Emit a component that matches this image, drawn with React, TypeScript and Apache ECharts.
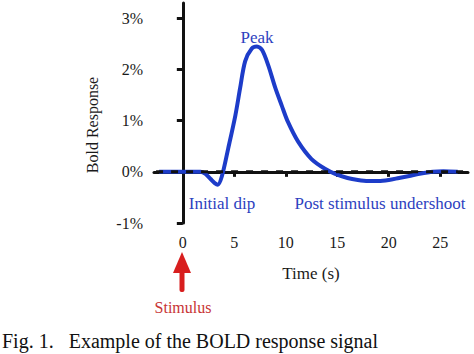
import React, { useEffect, useRef } from "react";
import * as echarts from "echarts";

const times = [-2.3, -1, 0, 1, 1.7, 2.2, 2.7, 3.1, 3.4, 3.8, 4.4, 5.1, 5.56, 6.05, 6.7, 7.2, 7.7, 8.3, 9.0, 9.6, 10.2, 11.2, 12.5, 13.8, 14.8, 16, 17, 18, 19, 20, 21, 22, 23, 24.3, 25.3, 26.7];
const bold = [0, 0, 0, 0, 0, -0.04, -0.14, -0.22, -0.25, -0.08, 0.45, 1.1, 1.63, 2.16, 2.41, 2.45, 2.38, 2.08, 1.63, 1.3, 0.98, 0.59, 0.25, 0.06, -0.04, -0.12, -0.16, -0.18, -0.18, -0.16, -0.12, -0.08, -0.04, 0, 0.01, 0];
const baselineX = [-2.6, 27.7];
const baselineY = [0, 0];
const xTicks = [0, 5, 10, 15, 20, 25];
const yTicks = [-1, 0, 1, 2, 3];

const SERIF = "Liberation Serif";
const BLUE_TEXT = "#2d3fc0";

export default function App() {
  const ref = useRef<HTMLDivElement>(null);
  useEffect(() => {
    if (!ref.current) return;
    const chart = echarts.init(ref.current, undefined, { renderer: "svg" });
    chart.setOption({
      animation: false,
      backgroundColor: "#ffffff",
      textStyle: { fontFamily: SERIF },
      grid: { left: 154, right: 6, top: 3, bottom: 131 },
      xAxis: {
        type: "value",
        min: -2.8,
        max: 27.7,
        name: "Time (s)",
        nameLocation: "middle",
        nameGap: 42,
        nameTextStyle: { fontFamily: SERIF, fontSize: 17, color: "#1a1a1a" },
        axisLine: { lineStyle: { color: "#111", width: 3 } },
        axisTick: { show: true, customValues: xTicks, length: 5, lineStyle: { width: 3, color: "#111" } },
        axisLabel: { customValues: xTicks, margin: 11, fontFamily: SERIF, fontSize: 16, color: "#1a1a1a" },
        splitLine: { show: false },
      },
      yAxis: {
        type: "value",
        min: -1,
        max: 3.3,
        axisLine: { show: true, lineStyle: { color: "#111", width: 3 } },
        axisTick: { show: true, customValues: yTicks, length: 6, lineStyle: { width: 3, color: "#111" } },
        axisLabel: { customValues: yTicks, margin: 11, fontFamily: SERIF, fontSize: 16, color: "#1a1a1a", formatter: (v: number) => `${v}%` },
        splitLine: { show: false },
      },
      series: [
        {
          type: "line",
          data: times.map((t, i) => [t, bold[i]]),
          smooth: 0.3,
          showSymbol: false,
          lineStyle: { color: "#1d3cc9", width: 4 },
          z: 2,
        },
        {
          type: "line",
          data: baselineX.map((t, i) => [t, baselineY[i]]),
          showSymbol: false,
          silent: true,
          lineStyle: { color: "#111", width: 3, type: [7, 8] },
          z: 3,
        },
      ],
      graphic: [
        {
          type: "text",
          x: 92,
          y: 125,
          rotation: Math.PI / 2,
          style: { text: "Bold Response", fontFamily: SERIF, fontSize: 16, fill: "#1a1a1a", align: "center", verticalAlign: "middle" },
        },
        { type: "text", x: 257, y: 37, style: { text: "Peak", fontFamily: SERIF, fontSize: 17, fill: BLUE_TEXT, align: "center", verticalAlign: "middle" } },
        { type: "text", x: 222, y: 203, style: { text: "Initial dip", fontFamily: SERIF, fontSize: 17, fill: BLUE_TEXT, align: "center", verticalAlign: "middle" } },
        { type: "text", x: 380, y: 203, style: { text: "Post stimulus undershoot", fontFamily: SERIF, fontSize: 17, fill: BLUE_TEXT, align: "center", verticalAlign: "middle" } },
        { type: "polygon", shape: { points: [[182, 252], [173, 273], [191, 273]] }, style: { fill: "#d81e1e" } },
        { type: "rect", shape: { x: 179.5, y: 270, width: 5, height: 22, r: 2 }, style: { fill: "#d81e1e" } },
        { type: "text", x: 183, y: 307, style: { text: "Stimulus", fontFamily: SERIF, fontSize: 16, fill: "#c83434", align: "center", verticalAlign: "middle" } },
        { type: "text", x: 2, y: 341, style: { text: "Fig. 1.   Example of the BOLD response signal", fontFamily: SERIF, fontSize: 20, fill: "#111", align: "left", verticalAlign: "middle" } },
      ],
    });
    return () => chart.dispose();
  }, []);
  return <div ref={ref} style={{ width: 474, height: 354, position: "absolute", left: 0, top: 0 }} />;
}
